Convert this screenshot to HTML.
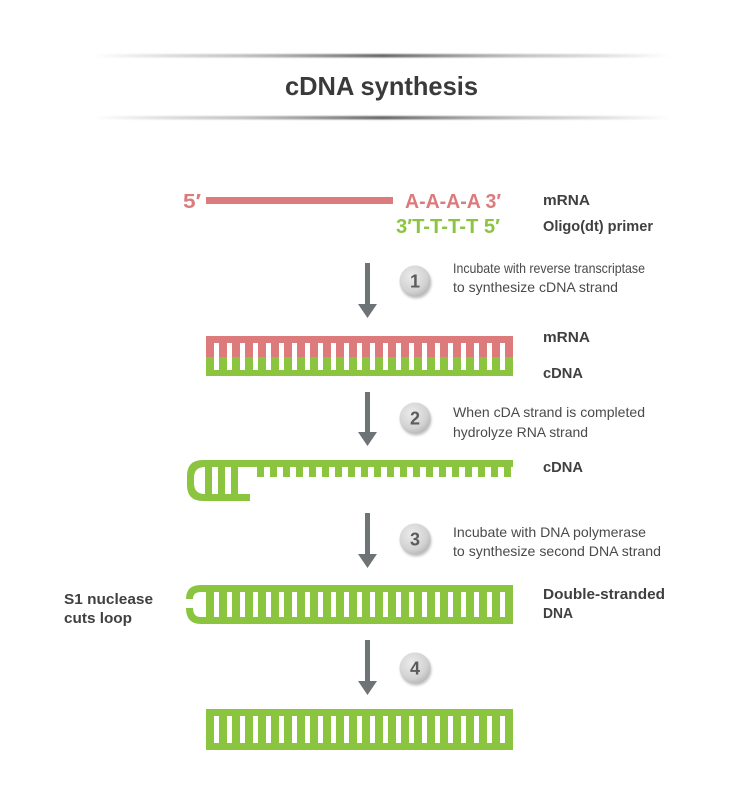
<!DOCTYPE html>
<html><head><meta charset="utf-8"><style>
html,body{margin:0;padding:0;background:#fff;}
svg{display:block;}
text{font-family:"Liberation Sans",sans-serif;}
</style></head><body>
<svg width="756" height="800" viewBox="0 0 756 800" xmlns="http://www.w3.org/2000/svg">
<defs>
<linearGradient id="ln" x1="0" x2="1" y1="0" y2="0">
<stop offset="0" stop-color="#999" stop-opacity="0"/>
<stop offset="0.25" stop-color="#aaa" stop-opacity="0.7"/>
<stop offset="0.5" stop-color="#666" stop-opacity="1"/>
<stop offset="0.75" stop-color="#aaa" stop-opacity="0.7"/>
<stop offset="1" stop-color="#999" stop-opacity="0"/>
</linearGradient>
<radialGradient id="cg" cx="0.4" cy="0.35" r="0.7">
<stop offset="0" stop-color="#ececec"/>
<stop offset="0.7" stop-color="#d2d2d2"/>
<stop offset="1" stop-color="#b5b5b5"/>
</radialGradient>
<filter id="bl" x="-0.1" y="-2" width="1.2" height="5"><feGaussianBlur stdDeviation="0.9"/></filter>
<filter id="sh" x="-0.5" y="-0.5" width="2" height="2"><feGaussianBlur stdDeviation="1.2"/></filter>
</defs>

<!-- title lines -->
<rect x="95" y="54" width="575" height="3.5" fill="url(#ln)" filter="url(#bl)"/>
<rect x="95" y="116" width="575" height="3.5" fill="url(#ln)" filter="url(#bl)"/>
<text x="285" y="95" font-size="26" font-weight="bold" fill="#3a3a3a" textLength="193" lengthAdjust="spacingAndGlyphs">cDNA synthesis</text>

<!-- top: mRNA + primer -->
<text x="183" y="208" font-size="20" font-weight="bold" fill="#dc7a7c" textLength="18" lengthAdjust="spacingAndGlyphs">5′</text>
<rect x="206" y="197" width="187" height="7" fill="#dc7a7c"/>
<text x="405" y="208" font-size="20" font-weight="bold" fill="#dc7a7c" textLength="96" lengthAdjust="spacingAndGlyphs">A-A-A-A 3′</text>
<text x="396" y="233" font-size="20" font-weight="bold" fill="#8bc53f" textLength="104" lengthAdjust="spacingAndGlyphs">3′T-T-T-T 5′</text>
<text x="543" y="205" font-size="15" font-weight="bold" fill="#404040" textLength="47" lengthAdjust="spacingAndGlyphs">mRNA</text>
<text x="543" y="231" font-size="15" font-weight="bold" fill="#404040" textLength="110" lengthAdjust="spacingAndGlyphs">Oligo(dt) primer</text>

<!-- arrows -->
<g fill="#6e7376">
<rect x="365" y="263" width="5" height="42"/><polygon points="358,304 377,304 367.5,318"/>
<rect x="365" y="392" width="5" height="41"/><polygon points="358,432 377,432 367.5,446"/>
<rect x="365" y="513" width="5" height="42"/><polygon points="358,554 377,554 367.5,568"/>
<rect x="365" y="640" width="5" height="42"/><polygon points="358,681 377,681 367.5,695"/>
</g>

<!-- circles -->
<g>
<circle cx="416" cy="283" r="15.5" fill="#999" opacity="0.6" filter="url(#sh)"/>
<circle cx="415" cy="281" r="15.5" fill="url(#cg)"/>
<text x="415" y="287.5" font-size="18" font-weight="bold" fill="#5c5c5c" text-anchor="middle">1</text>
<circle cx="416" cy="420" r="15.5" fill="#999" opacity="0.6" filter="url(#sh)"/>
<circle cx="415" cy="418" r="15.5" fill="url(#cg)"/>
<text x="415" y="424.5" font-size="18" font-weight="bold" fill="#5c5c5c" text-anchor="middle">2</text>
<circle cx="416" cy="541" r="15.5" fill="#999" opacity="0.6" filter="url(#sh)"/>
<circle cx="415" cy="539" r="15.5" fill="url(#cg)"/>
<text x="415" y="545.5" font-size="18" font-weight="bold" fill="#5c5c5c" text-anchor="middle">3</text>
<circle cx="416" cy="670" r="15.5" fill="#999" opacity="0.6" filter="url(#sh)"/>
<circle cx="415" cy="668" r="15.5" fill="url(#cg)"/>
<text x="415" y="674.5" font-size="18" font-weight="bold" fill="#5c5c5c" text-anchor="middle">4</text>
</g>

<!-- step texts -->
<g font-size="14" fill="#4a4a4a">
<text x="453" y="273" textLength="192" lengthAdjust="spacingAndGlyphs">Incubate with reverse transcriptase</text>
<text x="453" y="292" textLength="165" lengthAdjust="spacingAndGlyphs">to synthesize cDNA strand</text>
<text x="453" y="417" textLength="192" lengthAdjust="spacingAndGlyphs">When cDA strand is completed</text>
<text x="453" y="437" textLength="135" lengthAdjust="spacingAndGlyphs">hydrolyze RNA strand</text>
<text x="453" y="537" textLength="193" lengthAdjust="spacingAndGlyphs">Incubate with DNA polymerase</text>
<text x="453" y="556" textLength="208" lengthAdjust="spacingAndGlyphs">to synthesize second DNA strand</text>
</g>

<!-- ladder 1: mRNA/cDNA -->
<rect x="206" y="336" width="307" height="7" fill="#dc7a7c"/>
<rect x="206" y="370" width="307" height="6" fill="#8bc53f"/>
<g fill="#dc7a7c">
<rect x="206" y="343" width="8" height="14"/><rect x="219" y="343" width="8" height="14"/><rect x="232" y="343" width="8" height="14"/><rect x="245" y="343" width="8" height="14"/><rect x="258" y="343" width="8" height="14"/><rect x="271" y="343" width="8" height="14"/><rect x="284" y="343" width="8" height="14"/><rect x="297" y="343" width="8" height="14"/><rect x="310" y="343" width="8" height="14"/><rect x="323" y="343" width="8" height="14"/><rect x="336" y="343" width="8" height="14"/><rect x="349" y="343" width="8" height="14"/><rect x="362" y="343" width="8" height="14"/><rect x="375" y="343" width="8" height="14"/><rect x="388" y="343" width="8" height="14"/><rect x="401" y="343" width="8" height="14"/><rect x="414" y="343" width="8" height="14"/><rect x="427" y="343" width="8" height="14"/><rect x="440" y="343" width="8" height="14"/><rect x="453" y="343" width="8" height="14"/><rect x="466" y="343" width="8" height="14"/><rect x="479" y="343" width="8" height="14"/><rect x="492" y="343" width="8" height="14"/><rect x="505" y="343" width="8" height="14"/>
</g>
<g fill="#8bc53f">
<rect x="206" y="357" width="8" height="13"/><rect x="219" y="357" width="8" height="13"/><rect x="232" y="357" width="8" height="13"/><rect x="245" y="357" width="8" height="13"/><rect x="258" y="357" width="8" height="13"/><rect x="271" y="357" width="8" height="13"/><rect x="284" y="357" width="8" height="13"/><rect x="297" y="357" width="8" height="13"/><rect x="310" y="357" width="8" height="13"/><rect x="323" y="357" width="8" height="13"/><rect x="336" y="357" width="8" height="13"/><rect x="349" y="357" width="8" height="13"/><rect x="362" y="357" width="8" height="13"/><rect x="375" y="357" width="8" height="13"/><rect x="388" y="357" width="8" height="13"/><rect x="401" y="357" width="8" height="13"/><rect x="414" y="357" width="8" height="13"/><rect x="427" y="357" width="8" height="13"/><rect x="440" y="357" width="8" height="13"/><rect x="453" y="357" width="8" height="13"/><rect x="466" y="357" width="8" height="13"/><rect x="479" y="357" width="8" height="13"/><rect x="492" y="357" width="8" height="13"/><rect x="505" y="357" width="8" height="13"/>
</g>
<text x="543" y="342" font-size="15" font-weight="bold" fill="#404040" textLength="47" lengthAdjust="spacingAndGlyphs">mRNA</text>
<text x="543" y="378" font-size="15" font-weight="bold" fill="#404040" textLength="40" lengthAdjust="spacingAndGlyphs">cDNA</text>

<!-- ladder 2: hairpin cDNA -->
<g fill="#8bc53f">
<path d="M513 460 H203 Q187 460 187 476 V485 Q187 501 203 501 H250 V494 H205 Q194 494 194 483 V478 Q194 467 205 467 H513 Z"/>
<rect x="205" y="467" width="7" height="27"/>
<rect x="218" y="467" width="7" height="27"/>
<rect x="231" y="467" width="7" height="27"/>
<rect x="257" y="467" width="7" height="10"/><rect x="270" y="467" width="7" height="10"/><rect x="283" y="467" width="7" height="10"/><rect x="296" y="467" width="7" height="10"/><rect x="309" y="467" width="7" height="10"/><rect x="322" y="467" width="7" height="10"/><rect x="335" y="467" width="7" height="10"/><rect x="348" y="467" width="7" height="10"/><rect x="361" y="467" width="7" height="10"/><rect x="374" y="467" width="7" height="10"/><rect x="387" y="467" width="7" height="10"/><rect x="400" y="467" width="7" height="10"/><rect x="413" y="467" width="7" height="10"/><rect x="426" y="467" width="7" height="10"/><rect x="439" y="467" width="7" height="10"/><rect x="452" y="467" width="7" height="10"/><rect x="465" y="467" width="7" height="10"/><rect x="478" y="467" width="7" height="10"/><rect x="491" y="467" width="7" height="10"/><rect x="504" y="467" width="7" height="10"/>
</g>
<text x="543" y="472" font-size="15" font-weight="bold" fill="#404040" textLength="40" lengthAdjust="spacingAndGlyphs">cDNA</text>

<!-- ladder 3: double-stranded with nicked loop -->
<g fill="#8bc53f">
<path d="M513 585 H201 Q186 585 186 599 H193 Q193 592 201 592 H513 Z"/>
<path d="M513 624 H201 Q186 624 186 608 H193 Q193 617 201 617 H513 Z"/>
<rect x="206" y="592" width="8" height="25"/><rect x="219" y="592" width="8" height="25"/><rect x="232" y="592" width="8" height="25"/><rect x="245" y="592" width="8" height="25"/><rect x="258" y="592" width="8" height="25"/><rect x="271" y="592" width="8" height="25"/><rect x="284" y="592" width="8" height="25"/><rect x="297" y="592" width="8" height="25"/><rect x="310" y="592" width="8" height="25"/><rect x="323" y="592" width="8" height="25"/><rect x="336" y="592" width="8" height="25"/><rect x="349" y="592" width="8" height="25"/><rect x="362" y="592" width="8" height="25"/><rect x="375" y="592" width="8" height="25"/><rect x="388" y="592" width="8" height="25"/><rect x="401" y="592" width="8" height="25"/><rect x="414" y="592" width="8" height="25"/><rect x="427" y="592" width="8" height="25"/><rect x="440" y="592" width="8" height="25"/><rect x="453" y="592" width="8" height="25"/><rect x="466" y="592" width="8" height="25"/><rect x="479" y="592" width="8" height="25"/><rect x="492" y="592" width="8" height="25"/><rect x="505" y="592" width="8" height="25"/>
</g>
<text x="543" y="599" font-size="15" font-weight="bold" fill="#404040" textLength="122" lengthAdjust="spacingAndGlyphs">Double-stranded</text>
<text x="543" y="618" font-size="15" font-weight="bold" fill="#404040" textLength="30" lengthAdjust="spacingAndGlyphs">DNA</text>
<text x="64" y="604" font-size="15" font-weight="bold" fill="#404040" textLength="89" lengthAdjust="spacingAndGlyphs">S1 nuclease</text>
<text x="64" y="623" font-size="15" font-weight="bold" fill="#404040" textLength="68" lengthAdjust="spacingAndGlyphs">cuts loop</text>

<!-- ladder 4 -->
<g fill="#8bc53f">
<rect x="206" y="709" width="307" height="7"/>
<rect x="206" y="743" width="307" height="7"/>
<rect x="206" y="716" width="8" height="27"/><rect x="219" y="716" width="8" height="27"/><rect x="232" y="716" width="8" height="27"/><rect x="245" y="716" width="8" height="27"/><rect x="258" y="716" width="8" height="27"/><rect x="271" y="716" width="8" height="27"/><rect x="284" y="716" width="8" height="27"/><rect x="297" y="716" width="8" height="27"/><rect x="310" y="716" width="8" height="27"/><rect x="323" y="716" width="8" height="27"/><rect x="336" y="716" width="8" height="27"/><rect x="349" y="716" width="8" height="27"/><rect x="362" y="716" width="8" height="27"/><rect x="375" y="716" width="8" height="27"/><rect x="388" y="716" width="8" height="27"/><rect x="401" y="716" width="8" height="27"/><rect x="414" y="716" width="8" height="27"/><rect x="427" y="716" width="8" height="27"/><rect x="440" y="716" width="8" height="27"/><rect x="453" y="716" width="8" height="27"/><rect x="466" y="716" width="8" height="27"/><rect x="479" y="716" width="8" height="27"/><rect x="492" y="716" width="8" height="27"/><rect x="505" y="716" width="8" height="27"/>
</g>
</svg>
</body></html>
